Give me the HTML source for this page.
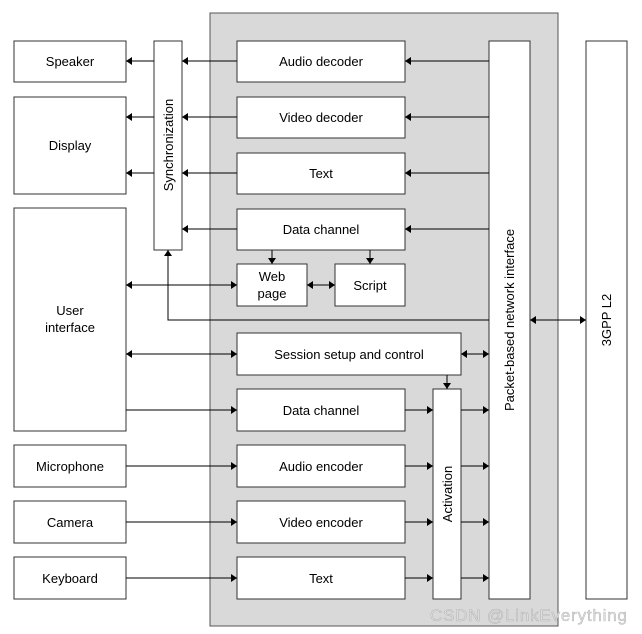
<!DOCTYPE html><html><head><style>body{margin:0;background:#fff}svg{display:block}text{font-family:"Liberation Sans",sans-serif;font-size:13px;fill:#000}</style></head><body>
<svg width="642" height="634" viewBox="0 0 642 634">
<defs><marker id="a" markerWidth="6" markerHeight="8" refX="6" refY="4" orient="auto" markerUnits="userSpaceOnUse"><path d="M0,0 L6,4 L0,8 z" fill="#000"/></marker>
<marker id="s" markerWidth="6" markerHeight="8" refX="0" refY="4" orient="auto" markerUnits="userSpaceOnUse"><path d="M6,0 L0,4 L6,8 z" fill="#000"/></marker></defs>
<rect x="210" y="13" width="348" height="613" fill="#d9d9d9" stroke="#555" stroke-width="1"/>
<g fill="#fff" stroke="#333" stroke-width="1">
<rect x="14" y="41" width="112" height="41"/><rect x="14" y="97" width="112" height="97"/><rect x="14" y="208" width="112" height="223"/>
<rect x="14" y="445" width="112" height="42"/><rect x="14" y="501" width="112" height="42"/><rect x="14" y="557" width="112" height="42"/>
<rect x="154" y="41" width="28" height="209"/>
<rect x="237" y="41" width="168" height="41"/><rect x="237" y="97" width="168" height="41"/><rect x="237" y="153" width="168" height="41"/><rect x="237" y="209" width="168" height="41"/>
<rect x="237" y="264" width="70" height="42"/><rect x="335" y="264" width="70" height="42"/>
<rect x="237" y="333" width="224" height="42"/>
<rect x="237" y="389" width="168" height="42"/><rect x="237" y="445" width="168" height="42"/><rect x="237" y="501" width="168" height="42"/><rect x="237" y="557" width="168" height="42"/>
<rect x="433" y="389" width="28" height="210"/>
<rect x="489" y="41" width="41" height="558"/><rect x="586" y="41" width="41" height="558"/>
</g>
<g stroke="#000" stroke-width="1" fill="none">
<line x1="154" y1="61" x2="126" y2="61" marker-end="url(#a)"/>
<line x1="154" y1="117" x2="126" y2="117" marker-end="url(#a)"/>
<line x1="154" y1="173" x2="126" y2="173" marker-end="url(#a)"/>
<line x1="237" y1="61" x2="182" y2="61" marker-end="url(#a)"/>
<line x1="237" y1="117" x2="182" y2="117" marker-end="url(#a)"/>
<line x1="237" y1="173" x2="182" y2="173" marker-end="url(#a)"/>
<line x1="237" y1="229" x2="182" y2="229" marker-end="url(#a)"/>
<line x1="489" y1="61" x2="405" y2="61" marker-end="url(#a)"/>
<line x1="489" y1="117" x2="405" y2="117" marker-end="url(#a)"/>
<line x1="489" y1="173" x2="405" y2="173" marker-end="url(#a)"/>
<line x1="489" y1="229" x2="405" y2="229" marker-end="url(#a)"/>
<line x1="272" y1="250" x2="272" y2="264" marker-end="url(#a)"/>
<line x1="370" y1="250" x2="370" y2="264" marker-end="url(#a)"/>
<line x1="126" y1="285" x2="237" y2="285" marker-start="url(#s)" marker-end="url(#a)"/>
<line x1="307" y1="285" x2="335" y2="285" marker-start="url(#s)" marker-end="url(#a)"/>
<polyline points="489,320 168,320 168,250" marker-end="url(#a)"/>
<line x1="530" y1="320" x2="586" y2="320" marker-start="url(#s)" marker-end="url(#a)"/>
<line x1="126" y1="354" x2="237" y2="354" marker-start="url(#s)" marker-end="url(#a)"/>
<line x1="461" y1="354" x2="489" y2="354" marker-start="url(#s)" marker-end="url(#a)"/>
<line x1="447" y1="375" x2="447" y2="389" marker-end="url(#a)"/>
<line x1="126" y1="410" x2="237" y2="410" marker-end="url(#a)"/>
<line x1="126" y1="466" x2="237" y2="466" marker-end="url(#a)"/>
<line x1="126" y1="522" x2="237" y2="522" marker-end="url(#a)"/>
<line x1="126" y1="578" x2="237" y2="578" marker-end="url(#a)"/>
<line x1="405" y1="410" x2="433" y2="410" marker-end="url(#a)"/>
<line x1="405" y1="466" x2="433" y2="466" marker-end="url(#a)"/>
<line x1="405" y1="522" x2="433" y2="522" marker-end="url(#a)"/>
<line x1="405" y1="578" x2="433" y2="578" marker-end="url(#a)"/>
<line x1="461" y1="410" x2="489" y2="410" marker-end="url(#a)"/>
<line x1="461" y1="466" x2="489" y2="466" marker-end="url(#a)"/>
<line x1="461" y1="522" x2="489" y2="522" marker-end="url(#a)"/>
<line x1="461" y1="578" x2="489" y2="578" marker-end="url(#a)"/>
</g>
<g text-anchor="middle">
<text x="70" y="66">Speaker</text><text x="70" y="150">Display</text>
<text x="70" y="315">User</text><text x="70" y="332">interface</text>
<text x="70" y="471">Microphone</text><text x="70" y="527">Camera</text><text x="70" y="583">Keyboard</text>
<text x="321" y="66">Audio decoder</text><text x="321" y="122">Video decoder</text><text x="321" y="178">Text</text><text x="321" y="234">Data channel</text>
<text x="272" y="281">Web</text><text x="272" y="298">page</text><text x="370" y="290">Script</text>
<text x="349" y="359">Session setup and control</text>
<text x="321" y="415">Data channel</text><text x="321" y="471">Audio encoder</text><text x="321" y="527">Video encoder</text><text x="321" y="583">Text</text>
<text transform="translate(173,145) rotate(-90)">Synchronization</text>
<text transform="translate(452,494) rotate(-90)">Activation</text>
<text transform="translate(514,320) rotate(-90)">Packet-based network interface</text>
<text transform="translate(611,320) rotate(-90)">3GPP L2</text>
</g>
<text x="430" y="621" textLength="197" style="font-size:17px;fill:#ddd;stroke:#999;stroke-width:0.3">CSDN @LinkEverything</text>
</svg></body></html>
